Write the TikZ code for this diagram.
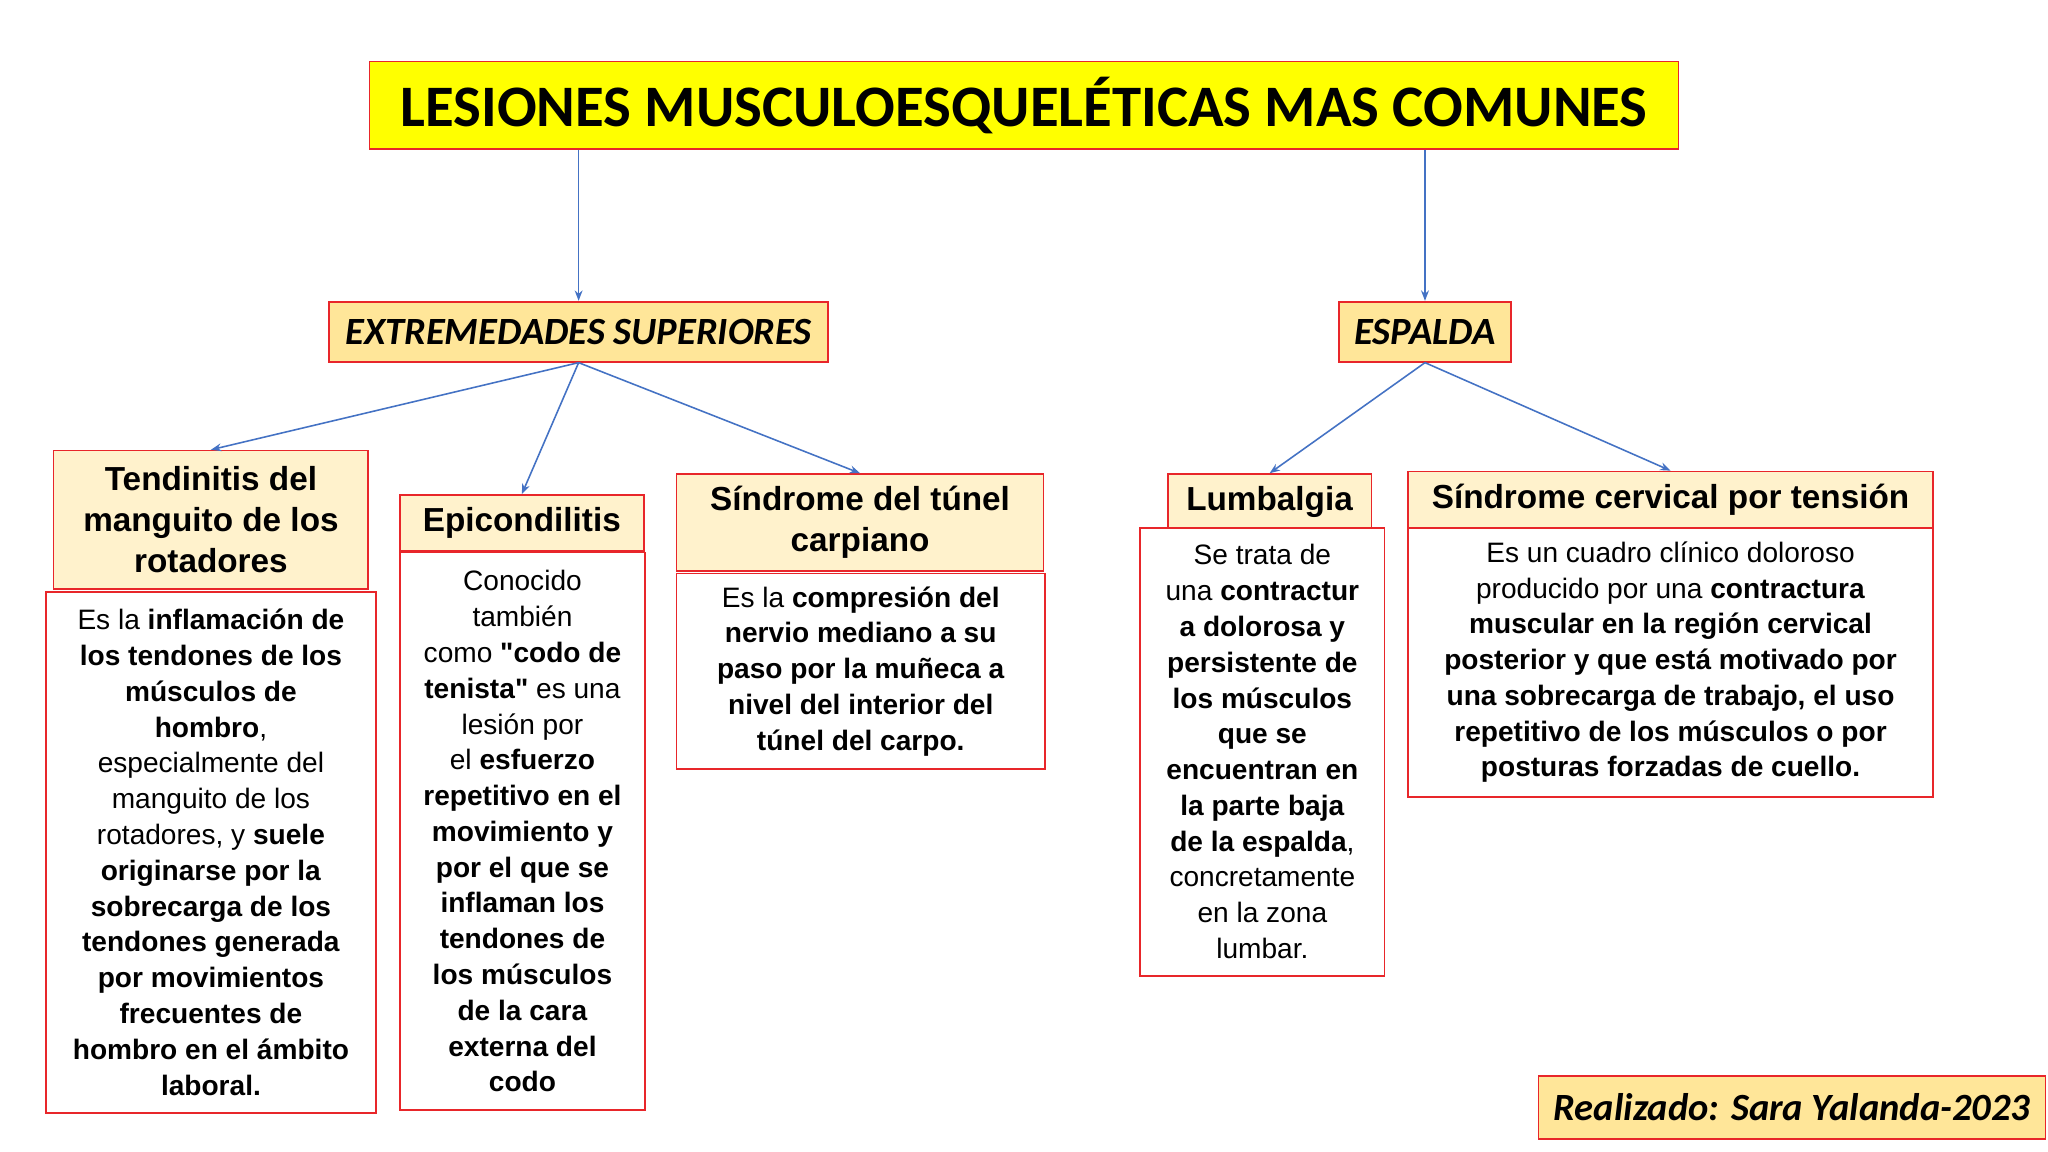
\documentclass[tikz,border=0pt]{standalone}
\usepackage{fontspec}
\setmainfont{Liberation Sans}
\newfontfamily\plainf{Liberation Sans}
\newfontfamily\calib{Carlito}
\newcommand\sq{{\plainf\bfseries"}}
\usetikzlibrary{arrows.meta}
\definecolor{bred}{HTML}{E8262A}
\definecolor{ylw}{HTML}{FFFF00}
\definecolor{org}{HTML}{FFE699}
\definecolor{lyl}{HTML}{FFF2CC}
\definecolor{blu}{HTML}{4472C4}
\tikzset{
 box/.style={draw=bred,line width=1.3pt,rectangle,inner sep=0pt,align=center},
 hdr/.style={box,fill=lyl,font=\fontsize{25.5}{31.5}\selectfont\bfseries},
 body/.style={box,fill=white,font=\fontsize{21.5}{27.4}\selectfont},
 cat/.style={box,fill=org,font=\calib\fontsize{29.5}{32}\selectfont\bfseries\itshape},
 conn/.style={blu,line width=1.2pt,-{Stealth[length=8pt,width=6pt]}}
}
\begin{document}
\begin{tikzpicture}[x=1pt,y=-1pt]
\useasboundingbox (0,0) rectangle (1568,882);
\fill[white] (0,0) rectangle (1568,882);
\node[box,fill=ylw,minimum width=1002pt,minimum height=67pt,font=\calib\fontsize{45}{48}\selectfont\bfseries] (title) at (784,80.5) {LESIONES MUSCULOESQUELÉTICAS MAS COMUNES};
\node[cat,minimum width=382pt,minimum height=46pt] (ext) at (443,254) {EXTREMEDADES SUPERIORES};
\node[cat,minimum width=132pt,minimum height=46pt] (esp) at (1091,254) {ESPALDA};
\node[hdr,minimum width=241pt,minimum height=106pt] (tend) at (161.5,398) {Tendinitis del\\manguito de los\\rotadores};
\node[body,minimum width=253pt,minimum height=399pt] (tendb) at (161.5,652.5) {Es la \textbf{inflamación de}\\\textbf{los tendones de los}\\\textbf{músculos de}\\\textbf{hombro},\\especialmente del\\manguito de los\\rotadores, y \textbf{suele}\\\textbf{originarse por la}\\\textbf{sobrecarga de los}\\\textbf{tendones generada}\\\textbf{por movimientos}\\\textbf{frecuentes de}\\\textbf{hombro en el ámbito}\\\textbf{laboral.}};
\node[hdr,minimum width=187pt,minimum height=43pt] (epi) at (399.5,400.5) {Epicondilitis};
\node[body,minimum width=188pt,minimum height=427pt] (epib) at (400,636.5) {Conocido\\también\\como \sq\textbf{codo de}\\\textbf{tenista}\sq{} es una\\lesión por\\el \textbf{esfuerzo}\\\textbf{repetitivo en el}\\\textbf{movimiento y}\\\textbf{por el que se}\\\textbf{inflaman los}\\\textbf{tendones de}\\\textbf{los músculos}\\\textbf{de la cara}\\\textbf{externa del}\\\textbf{codo}};
\node[hdr,minimum width=281pt,minimum height=74pt] (sin) at (658.5,400) {Síndrome del túnel\\carpiano};
\node[body,minimum width=282pt,minimum height=150pt] (sinb) at (659,514) {Es la \textbf{compresión del}\\\textbf{nervio mediano a su}\\\textbf{paso por la muñeca a}\\\textbf{nivel del interior del}\\\textbf{túnel del carpo.}};
\node[hdr,minimum width=156pt,minimum height=43pt] (lum) at (972,384.5) {Lumbalgia};
\node[body,minimum width=187pt,minimum height=343pt] (lumb) at (966.5,575.5) {Se trata de\\una \textbf{contractur}\\\textbf{a dolorosa y}\\\textbf{persistente de}\\\textbf{los músculos}\\\textbf{que se}\\\textbf{encuentran en}\\\textbf{la parte baja}\\\textbf{de la espalda},\\concretamente\\en la zona\\lumbar.};
\node[hdr,minimum width=402pt,minimum height=43pt] (cer) at (1279,382.5) {Síndrome cervical por tensión};
\node[body,minimum width=402pt,minimum height=206pt] (cerb) at (1279,507) {Es un cuadro clínico doloroso\\producido por una \textbf{contractura}\\\textbf{muscular en la región cervical}\\\textbf{posterior y que está motivado por}\\\textbf{una sobrecarga de trabajo, el uso}\\\textbf{repetitivo de los músculos o por}\\\textbf{posturas forzadas de cuello.}};
\node[cat,minimum width=388pt,minimum height=48pt] (real) at (1372,848) {Realizado: Sara Yalanda-2023};
\draw[conn] (title.south -| ext) -- (ext.north);
\draw[conn] (title.south -| esp) -- (esp.north);
\draw[conn] (ext.south) -- (tend.north);
\draw[conn] (ext.south) -- (epi.north);
\draw[conn] (ext.south) -- (sin.north);
\draw[conn] (esp.south) -- (lum.north);
\draw[conn] (esp.south) -- (cer.north);
\end{tikzpicture}
\end{document}
